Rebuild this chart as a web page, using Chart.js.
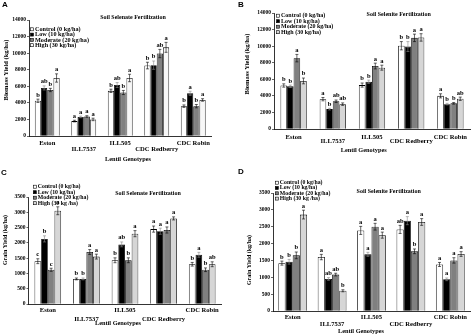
<!DOCTYPE html>
<html>
<head>
<meta charset="utf-8">
<script src="https://cdn.jsdelivr.net/npm/chart.js@4"></script>
<style>
  html, body { margin: 0; padding: 0; background: #fff; }
  #wrap { position: relative; width: 474px; height: 335px; overflow: hidden; }
  canvas { position: absolute; }
</style>
</head>
<body>
<div id="wrap">
  <canvas id="panelA" width="237" height="167" style="left:0;top:0"></canvas>
  <canvas id="panelB" width="237" height="167" style="left:237px;top:0"></canvas>
  <canvas id="panelC" width="237" height="168" style="left:0;top:167px"></canvas>
  <canvas id="panelD" width="237" height="168" style="left:237px;top:167px"></canvas>
</div>
<script>
// genotypes on the x axis (every second one sits one line lower)
const genotypes = [['Eston'], ['', 'ILL7537'], ['ILL505'], ['', 'CDC Redberry'], ['CDC Robin']];
const rateNames = ['Control (0 kg/ha)', 'Low (10 kg/ha)', 'Moderate (20 kg/ha)', 'High (30 kg/ha)'];
const rateNamesGrain = ['Control (0 kg/ha)', 'Low (10 kg/ha)', 'Moderate (20 kg/ha)', 'High (30 kg /ha)'];

// A - biomass yield, selenate (control, low, moderate, high)
const biomassSelenate = [
  [4250, 1800, 5450, 8500, 3600],
  [5800, 2300, 6150, 8550, 5150],
  [5550, 2350, 5250, 9950, 3600],
  [7000, 2000, 7000, 10700, 4350]
];
const biomassSelenateSE = [
  [200, 100, 200, 400, 150],
  [250, 100, 300, 500, 250],
  [200, 100, 250, 500, 200],
  [500, 150, 450, 600, 150]
];
const biomassSelenateLetters = [
  ['b', 'a', 'b', 'b', 'b'],
  ['ab', 'a', 'ab', 'b', 'a'],
  ['b', 'a', 'b', 'ab', 'b'],
  ['a', 'a', 'a', 'a', 'a']
];

// B - biomass yield, selenite
const biomassSelenite = [
  [5250, 3600, 5300, 10050, 4000],
  [5150, 2400, 5700, 9950, 3000],
  [8550, 3350, 7600, 11000, 3100],
  [5800, 3000, 7400, 11050, 3650]
];
const biomassSeleniteSE = [
  [200, 200, 250, 500, 250],
  [150, 100, 200, 600, 100],
  [450, 150, 350, 450, 100],
  [350, 150, 300, 450, 200]
];
const biomassSeleniteLetters = [
  ['b', 'a', 'b', 'b', 'a'],
  ['b', 'b', 'b', 'b', 'b'],
  ['a', 'ab', 'a', 'a', 'b'],
  ['b', 'ab', 'a', 'a', 'ab']
];

// C - grain yield, selenate
const grainSelenate = [
  [1400, 820, 1430, 2450, 1300],
  [2130, 820, 1950, 2380, 1610],
  [1120, 1700, 1430, 2420, 1120],
  [3050, 1550, 2300, 2800, 1300]
];
const grainSelenateSE = [
  [80, 30, 80, 100, 60],
  [100, 30, 80, 100, 80],
  [50, 80, 80, 100, 60],
  [130, 80, 100, 50, 80]
];
const grainSelenateLetters = [
  ['c', 'b', 'b', 'a', 'b'],
  ['b', 'b', 'ab', 'a', 'a'],
  ['c', 'a', 'b', 'a', 'b'],
  ['a', 'a', 'a', 'a', 'ab']
];

// D - grain yield, selenite
const grainSelenite = [
  [1420, 1600, 2390, 2420, 1380],
  [1460, 950, 1680, 2680, 940],
  [1650, 1080, 2500, 1770, 1500],
  [2860, 600, 2250, 2640, 1690]
];
const grainSeleniteSE = [
  [60, 80, 120, 120, 60],
  [70, 40, 60, 120, 40],
  [100, 40, 100, 70, 80],
  [130, 30, 90, 100, 70]
];
const grainSeleniteLetters = [
  ['b', 'a', 'a', 'ab', 'a'],
  ['b', 'ab', 'a', 'a', 'a'],
  ['b', 'ab', 'a', 'b', 'a'],
  ['a', 'b', 'a', 'a', 'a']
];

const serif = '"Liberation Serif", "Times New Roman", serif';
const fillsA = ['#ffffff', '#000000', '#808080', '#f7f7f7'];
const fillsRest = ['#ffffff', '#000000', '#808080', '#d6d6d6'];

// error bars, significance letters, legend and the panel texts
const panelText = {
  id: 'panelText',
  afterDatasetsDraw(chart, args, opts) {
    const ctx = chart.ctx;
    const y = chart.scales.y;
    ctx.save();
    chart.data.datasets.forEach((ds, i) => {
      chart.getDatasetMeta(i).data.forEach((bar, j) => {
        const v = ds.data[j], e = ds.errors[j];
        const yt = y.getPixelForValue(v + e), yb = y.getPixelForValue(v - e);
        ctx.strokeStyle = i === 1 ? '#888' : '#000';
        ctx.lineWidth = 0.6;
        ctx.beginPath();
        ctx.moveTo(bar.x, yt); ctx.lineTo(bar.x, yb);
        ctx.moveTo(bar.x - 1.5, yt); ctx.lineTo(bar.x + 1.5, yt);
        ctx.moveTo(bar.x - 1.5, yb); ctx.lineTo(bar.x + 1.5, yb);
        ctx.stroke();
        ctx.fillStyle = '#000';
        ctx.font = 'bold 6.5px ' + serif;
        ctx.textAlign = 'center';
        ctx.textBaseline = 'bottom';
        ctx.fillText(ds.letters[j], bar.x, yt - 1);
      });
    });
    ctx.restore();
  },
  afterDraw(chart, args, opts) {
    const ctx = chart.ctx;
    ctx.save();
    ctx.fillStyle = '#000';
    // panel letter
    ctx.font = 'bold 8px "Liberation Sans", Arial, sans-serif';
    ctx.textAlign = 'left';
    ctx.textBaseline = 'top';
    ctx.fillText(opts.letter.text, opts.letter.x, opts.letter.y);
    // title inside the plot
    ctx.font = 'bold 6px ' + serif;
    ctx.textAlign = 'center';
    ctx.textBaseline = 'middle';
    ctx.fillText(opts.title.text, opts.title.x, opts.title.y);
    // x axis title
    ctx.font = 'bold 6.3px ' + serif;
    ctx.fillText(opts.xTitle.text, opts.xTitle.x, opts.xTitle.y);
    // y axis title
    ctx.save();
    ctx.translate(opts.yTitle.x, opts.yTitle.y);
    ctx.rotate(-Math.PI / 2);
    ctx.font = 'bold ' + opts.yTitle.size + 'px ' + serif;
    ctx.fillText(opts.yTitle.text, 0, 0);
    ctx.restore();
    // legend
    const lg = opts.legend;
    ctx.font = 'bold ' + lg.size + 'px ' + serif;
    ctx.textAlign = 'left';
    chart.data.datasets.forEach((ds, i) => {
      const yy = lg.y + i * lg.step;
      ctx.fillStyle = ds.backgroundColor;
      ctx.fillRect(lg.x, yy - 1.5, 3, 3);
      ctx.strokeStyle = '#000';
      ctx.lineWidth = 0.6;
      ctx.strokeRect(lg.x, yy - 1.5, 3, 3);
      ctx.fillStyle = '#000';
      ctx.fillText(ds.label, lg.x + 4.5, yy);
    });
    ctx.restore();
  }
};

function makePanel(id, cfg) {
  const canvas = document.getElementById(id);
  const W = canvas.width, H = canvas.height;
  const p = cfg.plot;
  new Chart(canvas, {
    type: 'bar',
    data: {
      labels: genotypes,
      datasets: cfg.values.map((vals, k) => ({
        label: cfg.names[k],
        data: vals,
        errors: cfg.errors[k],
        letters: cfg.letters[k],
        backgroundColor: cfg.fills[k],
        borderColor: '#000',
        borderWidth: 0.8,
        categoryPercentage: cfg.group,
        barPercentage: 1
      }))
    },
    options: {
      responsive: false,
      animation: false,
      devicePixelRatio: 1,
      layout: { padding: { top: p.t, right: W - p.r, left: 0, bottom: 0 } },
      plugins: {
        legend: { display: false },
        tooltip: { enabled: false },
        panelText: cfg.text
      },
      scales: {
        x: {
          grid: { display: false, drawTicks: false },
          border: { display: true, color: '#000', width: 0.8 },
          ticks: {
            color: '#000', autoSkip: false, maxRotation: 0, padding: cfg.labelPad,
            font: { family: serif, weight: 'bold', size: 6.6, lineHeight: cfg.labelStep + 'px' }
          },
          afterFit: s => { s.height = H - p.b; }
        },
        y: {
          min: 0, max: cfg.yMax,
          grid: { drawOnChartArea: false, drawTicks: true, tickLength: 2, color: '#000', lineWidth: 0.6 },
          border: { display: true, color: '#000', width: 0.8 },
          ticks: {
            stepSize: cfg.yStep, color: '#000', padding: 1,
            font: { family: serif, weight: 'bold', size: 5.5 },
            callback: v => String(v)
          },
          afterFit: s => { s.width = p.l; }
        }
      }
    },
    plugins: [panelText]
  });
}

makePanel('panelA', {
  values: biomassSelenate, errors: biomassSelenateSE, letters: biomassSelenateLetters,
  names: rateNames, fills: fillsA, yMax: 14000, yStep: 2000, group: 0.68,
  plot: { l: 29, r: 211.5, t: 20, b: 136 }, labelStep: 6, labelPad: 4,
  text: {
    letter: { text: 'A', x: 2, y: 1 },
    title: { text: 'Soil Selenate Fertilization', x: 133, y: 17.3 },
    xTitle: { text: 'Lentil Genotypes', x: 128, y: 159 },
    yTitle: { text: 'Biomass Yield (kg/ha)', x: 6, y: 70, size: 6.5 },
    legend: { x: 30.5, y: 29.3, step: 5.3, size: 6.2 }
  }
});

makePanel('panelB', {
  values: biomassSelenite, errors: biomassSeleniteSE, letters: biomassSeleniteLetters,
  names: rateNames, fills: fillsRest, yMax: 14000, yStep: 2000, group: 0.67,
  plot: { l: 37, r: 233, t: 13, b: 129 }, labelStep: 4, labelPad: 6,
  text: {
    letter: { text: 'B', x: 1, y: 1 },
    title: { text: 'Soil Selenite Fertilization', x: 161.7, y: 14 },
    xTitle: { text: 'Lentil Genotypes', x: 126.7, y: 150 },
    yTitle: { text: 'Biomass Yield (kg/ha)', x: 10, y: 64, size: 6.5 },
    legend: { x: 39.5, y: 15.7, step: 5.5, size: 6 }
  }
});

makePanel('panelC', {
  values: grainSelenate, errors: grainSelenateSE, letters: grainSelenateLetters,
  names: rateNamesGrain, fills: fillsRest, yMax: 3500, yStep: 500, group: 0.69,
  plot: { l: 28.5, r: 221.5, t: 30, b: 137 }, labelStep: 9, labelPad: 1.5,
  text: {
    letter: { text: 'C', x: 1, y: 2 },
    title: { text: 'Soil Selenate Fertilization', x: 148, y: 26.7 },
    xTitle: { text: 'Lentil Genotypes', x: 118, y: 156.7 },
    yTitle: { text: 'Grain Yield (kg/ha)', x: 5, y: 73, size: 6 },
    legend: { x: 33.3, y: 19.7, step: 5.5, size: 5.8 }
  }
});

makePanel('panelD', {
  values: grainSelenite, errors: grainSeleniteSE, letters: grainSeleniteLetters,
  names: rateNamesGrain, fills: fillsRest, yMax: 3500, yStep: 500, group: 0.73,
  plot: { l: 36, r: 233, t: 26, b: 144 }, labelStep: 7, labelPad: 2.5,
  text: {
    letter: { text: 'D', x: 1, y: 1 },
    title: { text: 'Soil Selenite Fertilization', x: 151.7, y: 24 },
    xTitle: { text: 'Lentil Genotypes', x: 124, y: 164 },
    yTitle: { text: 'Grain Yield (kg/ha)', x: 12, y: 93, size: 6 },
    legend: { x: 38.3, y: 15.7, step: 5.3, size: 5.8 }
  }
});
</script>
</body>
</html>
